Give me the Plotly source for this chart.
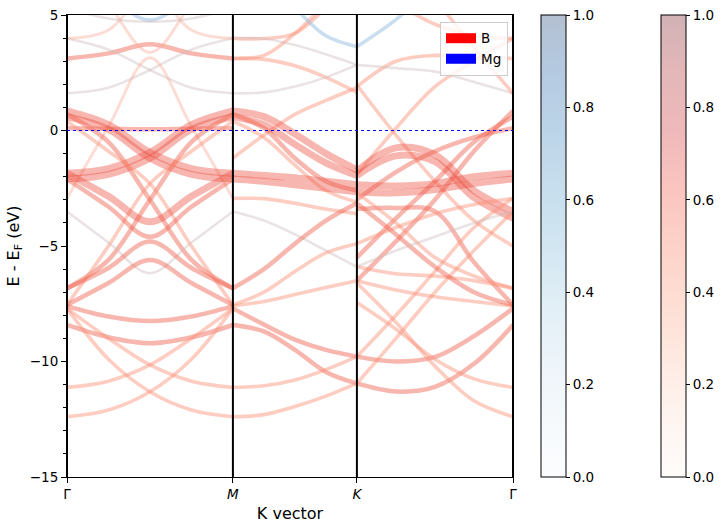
import plotly.graph_objects as go
import plotly.colors as pc

# High-symmetry points along the path
k_nodes = [0.0, 0.372, 0.650, 1.0]
k_labels = ['Γ', '<i>M</i>', '<i>K</i>', 'Γ']
# fractional positions of the sampled k-points inside each segment
frac = [0.0, 0.25, 0.5, 0.75, 1.0]

# style codes: 3 thick B, 2 medium B, 1 light B, 4 faint B, 0 grey (mixed), -1 Mg
# ---- Gamma -> M
gm_bands = [
    [3.12, 3.34, 3.73, 3.34, 3.12],
    [1.61, 1.85, 2.62, 3.50, 3.99],
    [3.99, 3.50, 2.62, 1.85, 1.61],
    [3.99, 4.35, 6.50, 8.00, 9.00],
    [9.00, 8.00, 6.50, 4.35, 3.99],
    [8.00, 5.50, 3.38, 5.50, 8.00],
    [-2.94, 0.17, 3.15, 0.17, -2.94],
    [8.00, 5.90, 4.78, 5.90, 8.00],
    [5.30, 4.85, 4.71, 4.85, 5.30],
    [0.10, 0.08, 0.05, 0.08, 0.10],
    [0.85, 0.25, -0.95, -1.65, -1.85],
    [-1.85, -1.65, -0.95, 0.25, 0.85],
    [0.60, 0.05, -1.20, -1.90, -2.10],
    [-2.10, -1.90, -1.20, 0.05, 0.60],
    [0.70, -0.50, -3.00, -5.60, -6.83],
    [-6.83, -5.60, -3.00, -0.50, 0.70],
    [0.40, -0.90, -2.30, -5.00, -7.55],
    [-7.55, -5.00, -2.30, -0.90, 0.40],
    [-1.85, -2.85, -3.95, -2.85, -1.85],
    [-2.10, -3.30, -4.60, -3.30, -2.10],
    [-3.51, -4.85, -6.18, -4.85, -3.51],
    [-6.83, -5.95, -4.81, -5.95, -6.83],
    [-7.55, -6.60, -5.61, -6.60, -7.55],
    [-7.60, -8.05, -8.25, -8.05, -7.60],
    [-8.42, -8.95, -9.21, -8.95, -8.42],
    [-12.39, -12.10, -11.31, -9.90, -7.70],
    [-7.70, -9.90, -11.31, -12.10, -12.39],
    [-11.12, -10.85, -10.15, -9.00, -7.70],
    [-7.70, -9.00, -10.15, -10.85, -11.12],
]
gm_styles = [2, 0, 0, 4, 4, 4, 4, -1, 0, 2, 3, 3, 3, 3, 2, 2, 1, 1,
             3, 2, 0, 2, 2, 2, 2, 1, 1, 1, 1]

# ---- M -> K
mk_bands = [
    [3.99, 3.98, 4.20, 5.30, 6.50],
    [3.99, 3.97, 3.70, 3.30, 2.84],
    [3.12, 3.08, 2.80, 2.30, 1.65],
    [3.12, 3.25, 4.20, 5.50, 6.60],
    [1.61, 1.65, 1.90, 2.30, 2.84],
    [7.50, 6.50, 5.30, 4.10, 3.63],
    [-1.20, -0.20, 0.70, 1.30, 1.85],
    [0.85, 0.60, -0.15, -1.00, -1.70],
    [0.60, 0.25, -0.60, -1.40, -1.95],
    [0.70, 0.10, -1.20, -2.20, -2.60],
    [0.40, -0.30, -1.50, -2.60, -3.10],
    [-1.85, -1.95, -2.05, -2.20, -2.35],
    [-2.10, -2.20, -2.35, -2.50, -2.65],
    [-2.94, -2.95, -3.15, -3.40, -3.60],
    [-3.51, -3.90, -4.50, -5.20, -5.90],
    [-6.83, -6.00, -4.90, -3.90, -3.15],
    [-7.55, -7.00, -6.10, -5.30, -4.90],
    [-7.60, -7.40, -7.10, -6.80, -6.50],
    [-7.70, -8.40, -9.05, -9.50, -9.79],
    [-8.42, -8.70, -9.50, -10.45, -10.95],
    [-11.12, -11.05, -10.80, -10.35, -9.79],
    [-12.39, -12.30, -11.95, -11.50, -10.95],
]
mk_styles = [1, 0, 1, 1, 0, -1, 1, 3, 3, 2, 1, 3, 3, 1, 0, 2, 1, 1, 2, 2, 1, 1]

# ---- K -> Gamma
kg_bands = [
    [1.90, 3.00, 3.25, 3.15, 3.12],
    [2.84, 2.70, 2.55, 2.10, 1.61],
    [6.50, 5.50, 4.60, 4.10, 3.99],
    [3.63, 4.80, 6.30, 7.50, 8.00],
    [10.00, 7.80, 5.70, 3.60, 1.61],
    [1.97, -0.20, -2.20, -3.90, -5.00],
    [-1.90, 0.10, 1.90, 3.00, 3.99],
    [-6.50, -4.80, -3.00, -0.90, 0.85],
    [-5.50, -3.80, -2.20, -0.50, 0.60],
    [-3.00, -1.80, -0.90, -0.30, 0.10],
    [-1.75, -0.75, -1.05, -2.60, -3.50],
    [-1.95, -1.10, -1.35, -2.90, -3.80],
    [-2.35, -2.40, -2.30, -2.00, -1.85],
    [-2.65, -2.70, -2.55, -2.30, -2.10],
    [-3.40, -3.35, -3.50, -5.70, -7.55],
    [-5.90, -6.20, -6.30, -6.50, -6.83],
    [-6.50, -6.90, -7.20, -7.40, -7.60],
    [-9.79, -10.00, -9.80, -8.90, -7.70],
    [-10.95, -11.30, -11.10, -10.10, -8.42],
    [-6.60, -8.30, -10.20, -11.70, -12.39],
    [-7.45, -8.60, -9.90, -10.75, -11.12],
    [-10.95, -9.00, -7.00, -5.20, -3.51],
    [-9.79, -8.00, -6.10, -4.20, -2.94],
    [-2.70, -4.00, -5.50, -6.30, -6.83],
    [-4.90, -4.20, -3.60, -3.20, -2.94],
    [-3.15, -4.50, -5.90, -7.00, -7.55],
    [-5.90, -5.20, -4.60, -4.00, -3.51],
]
kg_styles = [1, 0, 1, -1, 1, 1, 1, 2, 2, 2, 3, 3, 3, 3, 2, 1, 1, 2, 2, 1, 1,
             1, 1, 1, 1, 2, 0]

cbar_ticks = [0.0, 0.2, 0.4, 0.6, 0.8, 1.0]
y_ticks = [-15, -10, -5, 0, 5]
y_ticktext = ['\u221215', '\u221210', '\u22125', '0', '5']

STYLE = {
    3: (7.0, 'rgba(236,80,66,0.42)'),
    2: (4.5, 'rgba(240,95,75,0.45)'),
    1: (3.6, 'rgba(250,145,120,0.45)'),
    4: (3.0, 'rgba(248,170,150,0.40)'),
    0: (2.6, 'rgba(205,185,185,0.40)'),
    -1: (3.6, 'rgba(150,190,225,0.50)'),
}

fig = go.Figure()
segments = [(gm_bands, gm_styles, 0, 1), (mk_bands, mk_styles, 1, 2),
            (kg_bands, kg_styles, 2, 3)]
for bands, styles, a, b in segments:
    x0, x1 = k_nodes[a], k_nodes[b]
    xs = [x0 + f * (x1 - x0) for f in frac]
    for e, s in zip(bands, styles):
        w, c = STYLE[s]
        fig.add_trace(go.Scatter(x=xs, y=e, mode='lines',
                                 line=dict(color=c, width=w, shape='spline', smoothing=1.0),
                                 showlegend=False, hoverinfo='skip'))


def faded(scale, alpha=0.3):
    out = []
    n = len(scale)
    for i, col in enumerate(scale):
        r, g, b = pc.unlabel_rgb(col) if col.startswith('rgb') else pc.hex_to_rgb(col)
        rr = alpha * r + (1 - alpha) * 255
        gg = alpha * g + (1 - alpha) * 255
        bb = alpha * b + (1 - alpha) * 255
        out.append([i / (n - 1), 'rgb(%d,%d,%d)' % (rr, gg, bb)])
    return out


for scale, xpos in [(pc.sequential.Blues, 1.0628), (pc.sequential.Reds, 1.3318)]:
    fig.add_trace(go.Scatter(
        x=[None, None], y=[None, None], mode='markers', showlegend=False, hoverinfo='skip',
        marker=dict(color=[0, 1], cmin=0, cmax=1, colorscale=faded(scale), showscale=True,
                    colorbar=dict(x=xpos, xanchor='left', y=0.5, yanchor='middle', len=1,
                                  lenmode='fraction', thickness=25, thicknessmode='pixels',
                                  xpad=0, ypad=0, outlinewidth=1, outlinecolor='black',
                                  tickvals=cbar_ticks,
                                  ticktext=['%.1f' % t for t in cbar_ticks],
                                  ticks='outside', ticklen=4, tickcolor='black',
                                  tickfont=dict(size=13.5)))))

for name, col in [('B', 'red'), ('Mg', 'blue')]:
    fig.add_trace(go.Scatter(x=[None], y=[None], mode='lines', name=name,
                             line=dict(color=col, width=10)))

shapes = []
for kx in k_nodes:
    shapes.append(dict(type='line', xref='x', yref='paper', x0=kx, x1=kx, y0=0, y1=1,
                       line=dict(color='black', width=2)))
shapes.append(dict(type='line', xref='paper', yref='y', x0=0, x1=1, y0=0, y1=0,
                   line=dict(color='blue', width=1.2, dash='dot')))

fig.update_layout(
    width=724, height=525,
    margin=dict(l=67, r=211, t=15, b=48, autoexpand=False),
    plot_bgcolor='white', paper_bgcolor='white',
    font=dict(family='DejaVu Sans', size=13.5, color='black'),
    shapes=shapes,
    xaxis=dict(range=[0, 1], tickvals=k_nodes, ticktext=k_labels, showgrid=False,
               zeroline=False, showline=True, mirror=True, linecolor='black', linewidth=1,
               ticks='outside', ticklen=5, tickcolor='black', automargin=False,
               title=dict(text='K vector', standoff=6)),
    yaxis=dict(range=[-15, 5], tickvals=y_ticks, ticktext=y_ticktext, showgrid=False,
               zeroline=False, showline=True, mirror=True, linecolor='black', linewidth=1,
               ticks='outside', ticklen=5, tickcolor='black', automargin=False,
               minor=dict(dtick=1, ticks='outside', ticklen=3, tickcolor='black', showgrid=False),
               title=dict(text='E - E<sub>F</sub> (eV)', standoff=6)),
    legend=dict(x=0.9888, y=0.985, xanchor='right', yanchor='top',
                bgcolor='rgba(255,255,255,0.8)', bordercolor='#cccccc', borderwidth=1,
                font=dict(size=13.5), itemwidth=30, tracegroupgap=0),
    showlegend=True,
)

fig.write_html('out.html')
